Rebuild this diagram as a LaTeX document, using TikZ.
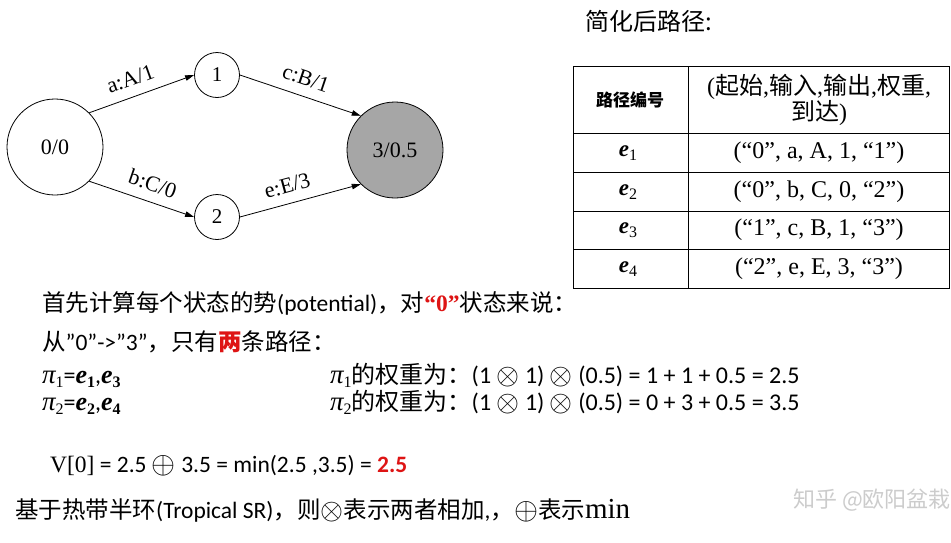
\documentclass[tikz,border=0pt]{standalone}
\usepackage{fontspec}
\setmainfont{Carlito}
\newfontfamily\cjk{Noto Sans CJK SC}
\newfontfamily\tnr{Liberation Serif}
\usetikzlibrary{arrows.meta}
\definecolor{myred}{RGB}{222,20,20}
\definecolor{stategray}{RGB}{166,166,166}
\newcommand{\zh}[1]{{\cjk #1}}
\newcommand{\fs}[1]{\fontsize{#1}{#1}\selectfont}
\newcommand{\sub}[1]{\raisebox{-4.5pt}{\fs{16}#1}}
\newcommand{\pii}[1]{{\tnr\itshape\fs{27}π}\sub{\tnr #1}}
\newcommand{\ee}[1]{{\tnr\bfseries\itshape\fs{26}e}\sub{\tnr\bfseries #1}}
\newcommand{\ecell}[1]{{\tnr\bfseries\itshape e}\sub{\tnr #1}}
\newcommand{\ot}{\raisebox{-1pt}{\resizebox{23pt}{!}{$\otimes$}}}
\newcommand{\op}{\raisebox{-1pt}{\resizebox{24pt}{!}{$\oplus$}}}
\begin{document}
\begin{tikzpicture}[x=1pt,y=-1pt,
  state/.style={circle, draw=black, line width=0.8pt, inner sep=0pt},
  trans/.style={-{Triangle[length=9pt,width=5.5pt]}, line width=0.8pt},
  lab/.style={sloped, above, inner sep=10pt, font=\tnr\fs{22}},
  line/.style={anchor=base west, inner sep=0pt, font=\fs{23.5}},
  cell/.style={inner sep=0pt, font=\tnr\fs{24}}]
\useasboundingbox [fill=white] (0,0) rectangle (951,542);

\node [state, minimum size=96pt, font=\tnr\fs{22}] (s0) at (55,147) {0/0};
\node [state, minimum size=45pt, font=\tnr\fs{21}] (s1) at (217,75) {1};
\node [state, minimum size=45pt, font=\tnr\fs{21}] (s2) at (217,217) {2};
\node [state, minimum size=96pt, fill=stategray, font=\tnr\fs{22}] (s3) at (395,150) {3/0.5};
\draw [trans] (s0.north east) -- node [lab, pos=0.45] {a:A/1} (s1.west);
\draw [trans] (s1.east) -- node [lab, pos=0.5] {c:B/1} (s3.north west);
\draw [trans] (s0.south east) -- node [lab, pos=0.55] {b:C/0} (s2.west);
\draw [trans] (s2.east) -- node [lab, pos=0.43] {e:E/3} (s3.south west);

\node [line, font=\cjk\fs{24}] (title) at (585,30) {简化后路径:};
\draw [line width=0.8pt] (573,66) rectangle (949,288);
\draw [line width=0.8pt] (688,66) -- (688,288);
\foreach \y in {133,172,211,249}
  \draw [line width=0.8pt] (573,\y) -- (949,\y);
\node [font=\cjk\bfseries\fs{17}, inner sep=0pt] (hd1) at (630,100) {路径编号};
\node [align=center, inner sep=0pt, font=\fontsize{24}{26}\selectfont] (hd2) at (819,100)
  {{\tnr(}\zh{起始}{\tnr,}\zh{输入}{\tnr,}\zh{输出}{\tnr,}\zh{权重}{\tnr,}\\\zh{到达}{\tnr)}};
\node [cell, font=\fs{23}] (e1) at (628,153) {\ecell{1}};
\node [cell, font=\fs{23}] (e2) at (628,192) {\ecell{2}};
\node [cell, font=\fs{23}] (e3) at (628,230) {\ecell{3}};
\node [cell, font=\fs{23}] (e4) at (628,269) {\ecell{4}};
\node [cell] (r1) at (819,153) {(“0”, a, A, 1, “1”)};
\node [cell] (r2) at (819,192) {(“0”, b, C, 0, “2”)};
\node [cell] (r3) at (819,230) {(“1”, c, B, 1, “3”)};
\node [cell] (r4) at (819,269) {(“2”, e, E, 3, “3”)};

\node [line] (t1) at (42,311) {\zh{首先计算每个状态的势}(potential)\zh{，对}{\tnr\bfseries\color{myred}“0”}\zh{状态来说：}};
\node [line] (t2) at (42,350) {\zh{从}”0”->”3”\zh{，只有}{\cjk\bfseries\color{myred}两}\zh{条路径：}};
\node [line, font=\fs{24}] (p1) at (42,383) {\pii{1}=\ee{1},\ee{3}};
\node [line, font=\fs{24}] (p2) at (42,410) {\pii{2}=\ee{2},\ee{4}};
\node [line, font=\fs{24}] (w1) at (330,383) {\pii{1}\zh{的权重为：}(1 \ot{} 1) \ot{} (0.5) = 1 + 1 + 0.5 = 2.5};
\node [line, font=\fs{24}] (w2) at (330,410) {\pii{2}\zh{的权重为：}(1 \ot{} 1) \ot{} (0.5) = 0 + 3 + 0.5 = 3.5};
\node [line, font=\fs{23.5}] (v0) at (50,472) {{\tnr V[0]} = 2.5 \op{} 3.5 = min(2.5 ,3.5) = {\bfseries\color{myred}2.5}};
\node [line] (sr) at (15,518) {\zh{基于热带半环}(Tropical SR)\zh{，则}\ot\zh{表示两者相加},\zh{，}\op\zh{表示}{\tnr\fs{29}min}};
\node [line, font=\cjk\fs{22}, text=black!20] (mark) at (793,507) {知乎 @欧阳盆栽};
\end{tikzpicture}
\end{document}
